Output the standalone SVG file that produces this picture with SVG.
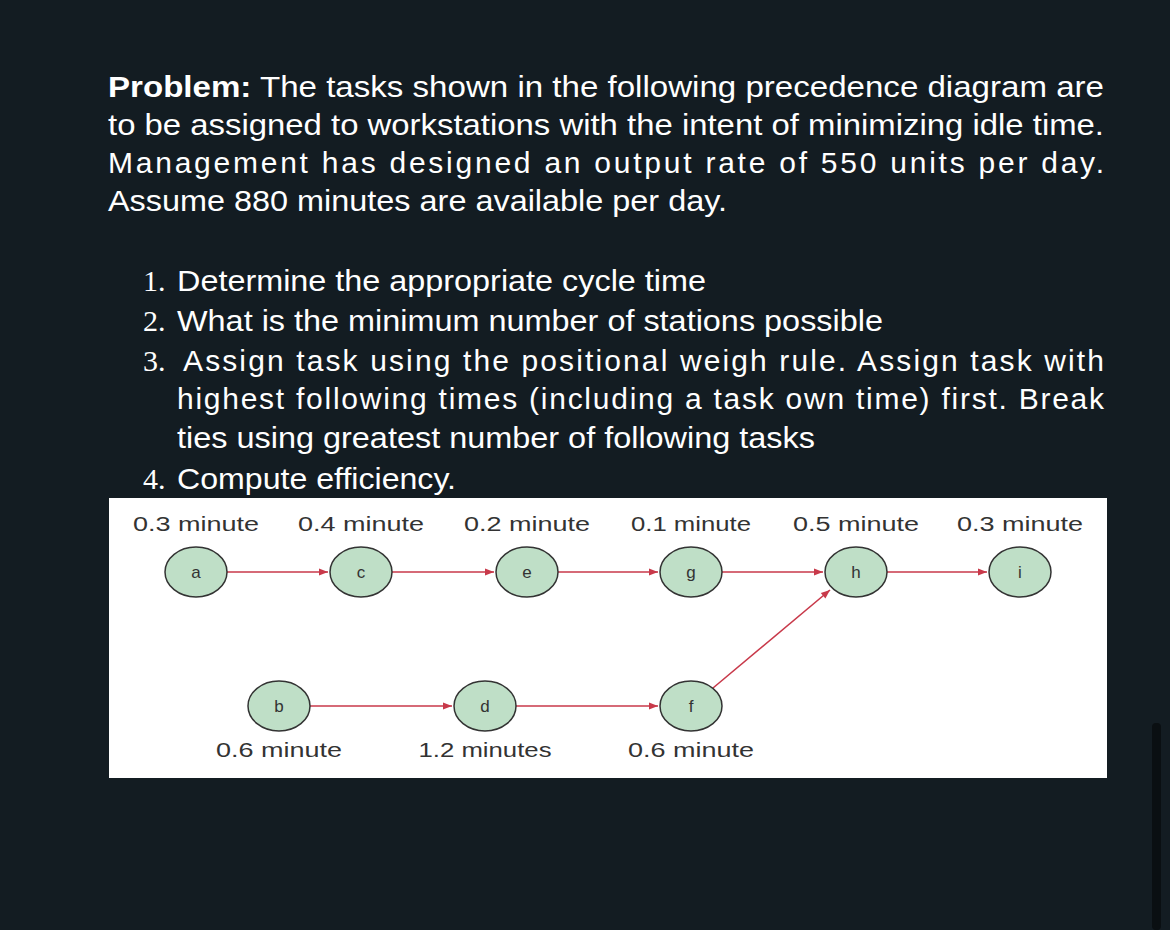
<svg xmlns="http://www.w3.org/2000/svg" width="1170" height="930" viewBox="0 0 1170 930">
<defs>
<style>
.t{font-family:"Liberation Sans",Arial,sans-serif;font-size:30px;fill:#fff}
.n{font-family:"Liberation Serif","Times New Roman",serif;font-size:30px;fill:#fff}
.lab{font-family:"Liberation Sans",Arial,sans-serif;font-size:20px;fill:#333;text-anchor:middle}
.nl{font-family:"Liberation Sans",Arial,sans-serif;font-size:17px;fill:#333;text-anchor:middle}
.node{fill:#bfdfc7;stroke:#333;stroke-width:1.5}
.e{stroke:#c8394a;stroke-width:1.6;fill:none;marker-end:url(#ar)}
</style>
<marker id="ar" viewBox="0 0 10 10" refX="10" refY="5" markerWidth="16" markerHeight="9" markerUnits="userSpaceOnUse" orient="auto"><path d="M0,1 L10,5 L0,9 Z" fill="#c8394a"/></marker>
</defs>
<rect width="1170" height="930" fill="#131c22"/>
<rect x="1152" y="723" width="9" height="207" rx="4" fill="#0a0f12"/>
<text class="t" x="108" y="97" textLength="996" lengthAdjust="spacingAndGlyphs"><tspan font-weight="bold">Problem:</tspan> The tasks shown in the following precedence diagram are</text>
<text class="t" x="108" y="135" textLength="996" lengthAdjust="spacingAndGlyphs">to be assigned to workstations with the intent of minimizing idle time.</text>
<text class="t" x="108" y="173" textLength="996" lengthAdjust="spacing">Management has designed an output rate of 550 units per day.</text>
<text class="t" x="108" y="211" textLength="619" lengthAdjust="spacingAndGlyphs">Assume 880 minutes are available per day.</text>
<text class="n" x="143" y="291">1.</text><text class="t" x="177" y="291" textLength="529" lengthAdjust="spacingAndGlyphs">Determine the appropriate cycle time</text>
<text class="n" x="143" y="331">2.</text><text class="t" x="177" y="331" textLength="706" lengthAdjust="spacingAndGlyphs">What is the minimum number of stations possible</text>
<text class="n" x="143" y="371">3.</text><text class="t" x="183" y="371" textLength="921" lengthAdjust="spacing">Assign task using the positional weigh rule. Assign task with</text>
<text class="t" x="177" y="409" textLength="927" lengthAdjust="spacing">highest following times (including a task own time) first. Break</text>
<text class="t" x="177" y="448" textLength="638" lengthAdjust="spacingAndGlyphs">ties using greatest number of following tasks</text>
<text class="n" x="143" y="489">4.</text><text class="t" x="177" y="489" textLength="279" lengthAdjust="spacingAndGlyphs">Compute efficiency.</text>
<rect x="109" y="498" width="998" height="280" fill="#fff"/>
<g id="labels">
<text class="lab" x="196" y="531" textLength="126" lengthAdjust="spacingAndGlyphs">0.3 minute</text>
<text class="lab" x="361" y="531" textLength="126" lengthAdjust="spacingAndGlyphs">0.4 minute</text>
<text class="lab" x="527" y="531" textLength="126" lengthAdjust="spacingAndGlyphs">0.2 minute</text>
<text class="lab" x="691" y="531" textLength="120" lengthAdjust="spacingAndGlyphs">0.1 minute</text>
<text class="lab" x="856" y="531" textLength="126" lengthAdjust="spacingAndGlyphs">0.5 minute</text>
<text class="lab" x="1020" y="531" textLength="126" lengthAdjust="spacingAndGlyphs">0.3 minute</text>
<text class="lab" x="279" y="757" textLength="126" lengthAdjust="spacingAndGlyphs">0.6 minute</text>
<text class="lab" x="485" y="757" textLength="133" lengthAdjust="spacingAndGlyphs">1.2 minutes</text>
<text class="lab" x="691" y="757" textLength="126" lengthAdjust="spacingAndGlyphs">0.6 minute</text>
</g>
<g id="connectors">
<line class="e" x1="227" y1="572" x2="328" y2="572"/>
<line class="e" x1="392" y1="572" x2="494" y2="572"/>
<line class="e" x1="558" y1="572" x2="658" y2="572"/>
<line class="e" x1="722" y1="572" x2="823" y2="572"/>
<line class="e" x1="887" y1="572" x2="987" y2="572"/>
<line class="e" x1="310" y1="706" x2="452" y2="706"/>
<line class="e" x1="516" y1="706" x2="658" y2="706"/>
<line class="e" x1="713" y1="688" x2="830" y2="590"/>
</g>
<g id="a"><ellipse class="node" cx="196" cy="572" rx="31" ry="25"/><text class="nl" x="196" y="578">a</text></g>
<g id="c"><ellipse class="node" cx="361" cy="572" rx="31" ry="25"/><text class="nl" x="361" y="578">c</text></g>
<g id="e"><ellipse class="node" cx="527" cy="572" rx="31" ry="25"/><text class="nl" x="527" y="578">e</text></g>
<g id="g"><ellipse class="node" cx="691" cy="572" rx="31" ry="25"/><text class="nl" x="691" y="578">g</text></g>
<g id="h"><ellipse class="node" cx="856" cy="572" rx="31" ry="25"/><text class="nl" x="856" y="578">h</text></g>
<g id="i"><ellipse class="node" cx="1020" cy="572" rx="31" ry="25"/><text class="nl" x="1020" y="578">i</text></g>
<g id="b"><ellipse class="node" cx="279" cy="706" rx="31" ry="25"/><text class="nl" x="279" y="712">b</text></g>
<g id="d"><ellipse class="node" cx="485" cy="706" rx="31" ry="25"/><text class="nl" x="485" y="712">d</text></g>
<g id="f"><ellipse class="node" cx="691" cy="706" rx="31" ry="25"/><text class="nl" x="691" y="712">f</text></g>
</svg>
